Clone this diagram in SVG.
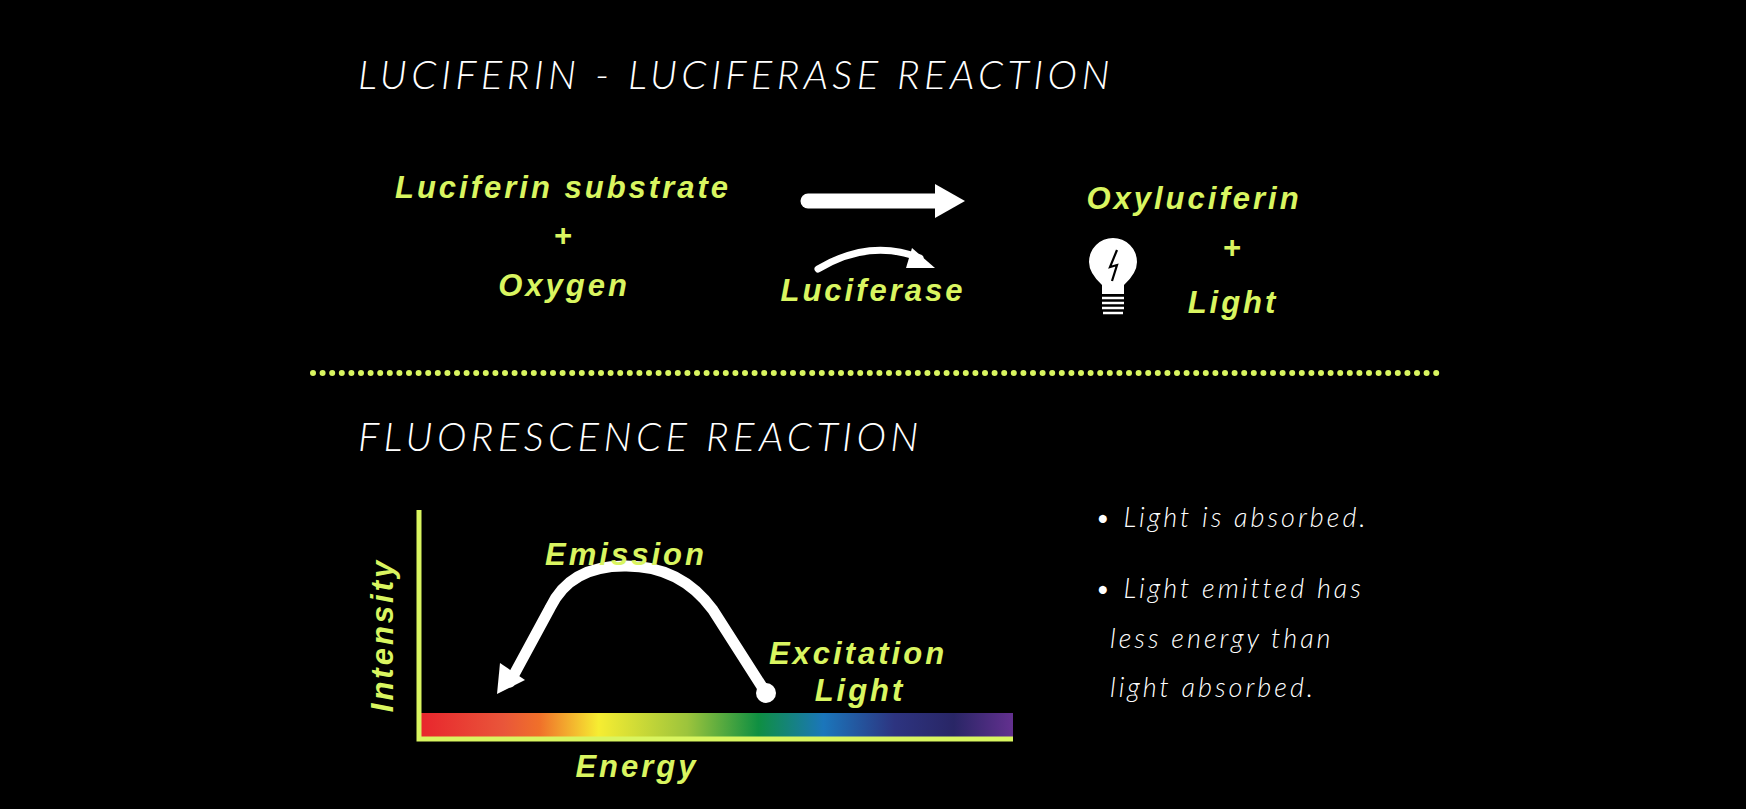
<svg xmlns="http://www.w3.org/2000/svg" width="1746" height="809" viewBox="0 0 1746 809">
<style>
.h{font-family:Lato,"Liberation Sans",sans-serif;font-style:italic;font-weight:300;font-size:40px;fill:#fff;letter-spacing:4.4px}
.g{font-family:"Liberation Sans",Arial,sans-serif;font-style:italic;font-weight:bold;font-size:31px;fill:#d9f560;text-anchor:middle;letter-spacing:3px}
.b{font-family:Lato,"Liberation Sans",sans-serif;font-style:italic;font-weight:300;font-size:27px;fill:#fff;letter-spacing:3px}
.w{fill:none;stroke:#fff;stroke-linecap:round}
</style>
<defs>
<linearGradient id="sp" x1="0" x2="1">
<stop offset="0" stop-color="#e8262d"/><stop offset="0.14" stop-color="#e9563a"/><stop offset="0.2" stop-color="#f0702a"/><stop offset="0.3" stop-color="#f6ed32"/><stop offset="0.45" stop-color="#9cc43c"/><stop offset="0.57" stop-color="#0f8f42"/><stop offset="0.68" stop-color="#1b76bb"/><stop offset="0.8" stop-color="#2d3480"/><stop offset="0.9" stop-color="#292666"/><stop offset="1" stop-color="#63308f"/>
</linearGradient>
</defs>
<rect width="1746" height="809" fill="#000"/>
<g id="title1"><text class="h" x="358" y="89">LUCIFERIN - LUCIFERASE REACTION</text></g>
<g id="reactants">
<text class="g" x="563" y="198">Luciferin substrate</text>
<text class="g" x="564" y="246">+</text>
<text class="g" x="564" y="296">Oxygen</text>
</g>
<g id="connectors">
<line class="w" x1="808" y1="201" x2="940" y2="201" stroke-width="15"/>
<polygon points="935,184 965,201 935,218" fill="#fff"/>
<path class="w" d="M818,269 Q870,238 920,258" stroke-width="7"/>
<polygon points="912,248 935,268 906,268" fill="#fff"/>
<path class="w" d="M766,693 L713,610 Q680,565 624,566 Q570,566 550,608 L510,682" stroke-width="11"/>
<circle cx="766" cy="693" r="10" fill="#fff"/>
<polygon points="497,694 500,663 525,680" fill="#fff"/>
</g>
<g id="enzyme"><text class="g" x="873" y="301">Luciferase</text></g>
<g id="products">
<text class="g" x="1194" y="209">Oxyluciferin</text>
<text class="g" x="1233" y="258">+</text>
<text class="g" x="1233" y="313">Light</text>
</g>
<g id="bulb">
<path d="M1102,294 L1102,285 Q1089,273 1089,262 A24,24 0 1 1 1137,262 Q1137,273 1124,285 L1124,294 Z" fill="#fff"/>
<path d="M1117,250 L1110,267 L1117,265 L1112,281" fill="none" stroke="#000" stroke-width="2.2"/>
<g stroke="#fff" stroke-width="2.5"><line x1="1102" y1="298" x2="1124" y2="298"/><line x1="1102" y1="303" x2="1124" y2="303"/><line x1="1102" y1="308" x2="1124" y2="308"/><line x1="1103" y1="313" x2="1123" y2="313"/></g>
</g>
<g id="divider"><line x1="313" y1="373" x2="1440" y2="373" stroke="#d9f560" stroke-width="6" stroke-linecap="round" stroke-dasharray="0 9.6"/></g>
<g id="title2"><text class="h" x="358" y="451">FLUORESCENCE REACTION</text></g>
<g id="chart">
<rect x="421" y="713" width="592" height="24" fill="url(#sp)"/>
<path d="M419,510 L419,739 L1013,739" fill="none" stroke="#d9f560" stroke-width="5"/>
<text class="g" transform="translate(393,635) rotate(-90)">Intensity</text>
<text class="g" x="637" y="777">Energy</text>
<text class="g" x="626" y="565">Emission</text>
<text class="g" x="858" y="664">Excitation</text>
<text class="g" x="860" y="701">Light</text>
</g>
<g id="notes">
<text class="b" x="1095" y="527">• Light is absorbed.</text>
<text class="b" x="1095" y="598">• Light emitted has</text>
<text class="b" x="1110" y="648">less energy than</text>
<text class="b" x="1110" y="697">light absorbed.</text>
</g>
</svg>
